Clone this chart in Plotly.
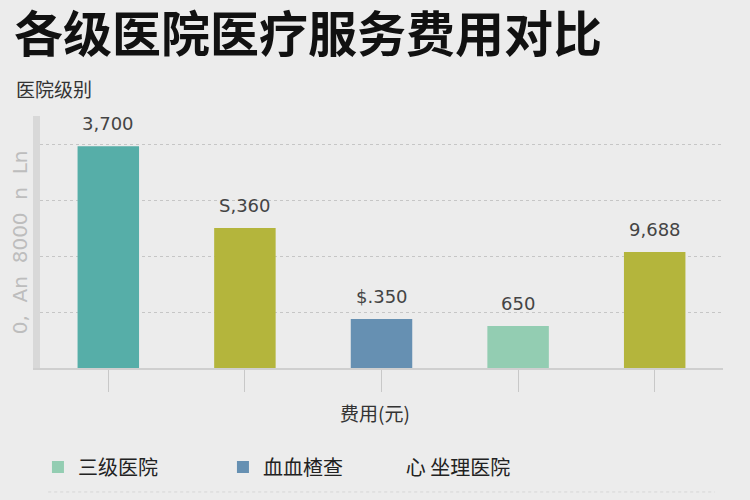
import plotly.graph_objects as go

# ---- data ----
categories = ["A", "B", "C", "D", "E"]
values = [3960, 2500, 875, 750, 2070]
value_labels = ["3,700", "S,360", "$.350", "650", "9,688"]
bar_colors = ["#56aea8", "#b4b53c", "#6690b2", "#93cdb2", "#b4b53c"]
legend_names = ["三级医院", "血血楂查", "心 坐理医院"]
y_ticks = [0, 1000, 2000, 3000, 4000]

title_text = "各级医院医疗服务费用对比"
subtitle_text = "医院级别"
x_title = "费用(元)"
y_garbled = "0,  An  8000  n  Ln"

CJK = "Noto Sans CJK SC"
BG = "#ececec"
W, H = 750, 500

fig = go.Figure()

idx_other = [0, 1, 4]
fig.add_trace(go.Bar(
    x=[categories[i] for i in idx_other],
    y=[values[i] for i in idx_other],
    marker=dict(color=[bar_colors[i] for i in idx_other], line=dict(width=0)),
    width=0.45, showlegend=False, hoverinfo="skip",
))
fig.add_trace(go.Bar(
    x=[categories[3]], y=[values[3]], name=legend_names[0],
    marker=dict(color=bar_colors[3], line=dict(width=0)), width=0.45,
))
fig.add_trace(go.Bar(
    x=[categories[2]], y=[values[2]], name=legend_names[1],
    marker=dict(color=bar_colors[2], line=dict(width=0)), width=0.45,
))
fig.add_trace(go.Scatter(x=[None], y=[None], mode="none", name=legend_names[2],
                         legend="legend2"))

annotations = []
for c, v, t in zip(categories, values, value_labels):
    annotations.append(dict(x=c, y=v, text=t, showarrow=False, yshift=23,
                            font=dict(family="DejaVu Sans", size=18, color="#444444")))

annotations.append(dict(xref="paper", yref="paper", x=-0.038, y=1.111, xanchor="left",
                        yanchor="middle", text=subtitle_text, showarrow=False,
                        font=dict(family=CJK, size=19, color="#333333")))
annotations.append(dict(xref="paper", yref="paper", x=0.49, y=-0.175, xanchor="center",
                        yanchor="middle", text=x_title, showarrow=False,
                        font=dict(family=CJK, size=19, color="#333333")))
annotations.append(dict(xref="paper", yref="paper", x=-0.029, y=0.5, xanchor="center",
                        yanchor="middle", text=y_garbled, showarrow=False, textangle=-90,
                        font=dict(family="DejaVu Sans", size=20, color="#bdbdbd")))

legend_font = dict(family=CJK, size=20, color="#222222")
fig.update_layout(
    width=W, height=H,
    paper_bgcolor=BG, plot_bgcolor=BG,
    margin=dict(l=40, r=27, t=116, b=132),
    title=dict(text="<b>" + title_text + "</b>", xref="container", yref="container",
               x=14 / W, xanchor="left", y=1 - 35 / H, yanchor="middle",
               font=dict(family=CJK, size=49, color="#111111")),
    showlegend=True,
    legend=dict(orientation="h", xref="paper", yref="paper", x=-0.003, y=-0.393,
                xanchor="left", yanchor="middle", bgcolor="rgba(0,0,0,0)",
                entrywidth=140, entrywidthmode="pixels", font=legend_font),
    legend2=dict(orientation="h", xref="paper", yref="paper", x=0.477, y=-0.393,
                 xanchor="left", yanchor="middle", bgcolor="rgba(0,0,0,0)",
                 font=legend_font),
    annotations=annotations,
    shapes=[dict(type="line", xref="paper", yref="paper", x0=0.012, x1=0.988,
                 y0=-0.492, y1=-0.492, line=dict(color="#d6d6d6", width=1, dash="dot"))],
)

fig.update_xaxes(
    type="category", categoryorder="array", categoryarray=categories,
    showticklabels=False, ticks="outside", ticklen=22, tickcolor="#c8c8c8", tickwidth=1,
    showline=True, linecolor="#cfcfcf", linewidth=2, showgrid=False, zeroline=False,
)
fig.update_yaxes(
    range=[0, 4500], tickvals=y_ticks, showticklabels=False,
    showgrid=True, gridcolor="#c6c6c6", gridwidth=1, griddash="3px,3px",
    showline=True, linecolor="#d8d8d8", linewidth=7, zeroline=False, ticks="",
)

page_js = ("document.body.style.margin='0';document.body.style.padding='0';"
           "document.body.style.overflow='hidden';"
           "document.body.style.background='" + BG + "';")
fig.write_html("out.html", post_script=page_js, config={"displayModeBar": False})
